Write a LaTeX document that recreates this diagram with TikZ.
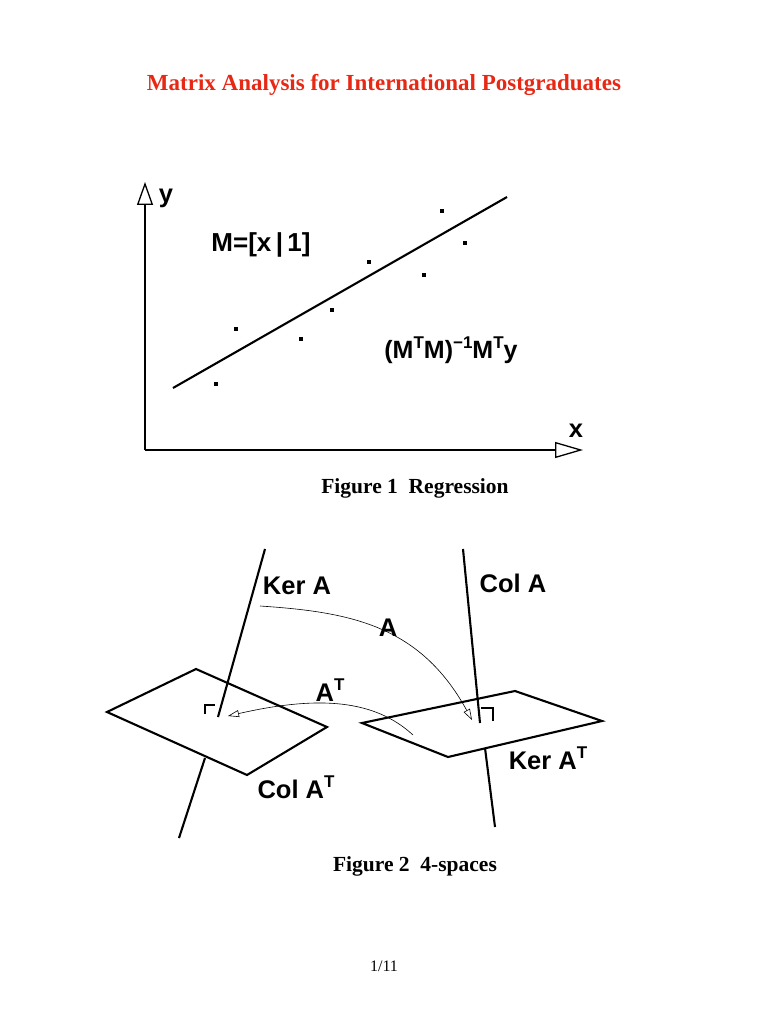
\documentclass[tikz,border=0pt]{standalone}
\usepackage{fontspec}
\setmainfont{Liberation Serif}
\newfontfamily\lab{Liberation Sans}
\usetikzlibrary{arrows.meta}
\newcommand{\supT}[1]{\raisebox{0.42em}{\fontsize{17}{18}\selectfont #1}}
\begin{document}
\begin{tikzpicture}[x=1pt,y=-1pt,
 thick line/.style={line width=2.1pt},
 thin arrow/.style={line width=0.6pt,-{Triangle[open,length=11pt,width=7pt]}},
 lbl/.style={font=\lab\bfseries\fontsize{25.5}{28}\selectfont,inner sep=0},
 figcap/.style={font=\bfseries\fontsize{21.5}{24}\selectfont,inner sep=0},
 datadot/.style={fill,minimum size=3.5pt,inner sep=0,rectangle}]
\useasboundingbox (0,0) rectangle (768,1024);
\node[font=\bfseries\fontsize{23}{26}\selectfont,text={rgb,255:red,230;green,40;blue,20}] (title) at (384,85) {Matrix Analysis for International Postgraduates};
% Figure 1
\coordinate (o) at (145,450);
\coordinate (yt) at (145,182);
\coordinate (xr) at (583,450);
\draw[line width=1.3pt,-{Triangle[open,length=23pt,width=16pt]}] (o) -- (yt);
\draw[line width=1.3pt,-{Triangle[open,length=28pt,width=16pt]}] (o) -- (xr);
\node[lbl] (ylab) at (166,198) {y};
\node[lbl] (xlab) at (576,431) {x};
\coordinate (l1) at (173,388);
\coordinate (l2) at (507,197);
\draw[thick line] (l1) -- (l2);
\foreach \n/\p in {a/{(216,384)},b/{(236,329)},c/{(301,339)},d/{(332,310)},e/{(369,262)},f/{(424,275)},g/{(442,211)},h/{(465,243)}}
 \node[datadot] (p\n) at \p {};
\node[lbl,font=\lab\bfseries\fontsize{26}{28}\selectfont] (mdef) at (261,245) {M=[x\,\textbar\,1]};
\node[lbl,font=\lab\bfseries\fontsize{25}{28}\selectfont] (sol) at (451,350) {(M\supT{T}M)\supT{−1}M\supT{T}y};
\node[figcap] (cap1) at (415,488) {Figure 1\ \ Regression};
% Figure 2
\coordinate (lp1) at (107,712); \coordinate (lp2) at (196,669);
\coordinate (lp3) at (327,727); \coordinate (lp4) at (247,775);
\draw[thick line,line join=miter] (lp1) -- (lp2) -- (lp3) -- (lp4) -- cycle;
\coordinate (k1) at (265,549); \coordinate (k2) at (218,717);
\coordinate (k3) at (205,758); \coordinate (k4) at (179,838);
\draw[thick line] (k1) -- (k2);
\draw[thick line] (k3) -- (k4);
\coordinate (ra1) at (205,714); \coordinate (ra2) at (205,705); \coordinate (ra3) at (215,705);
\draw[line width=1.2pt] (ra1) -- (ra2) -- (ra3);
\coordinate (rp1) at (362,723); \coordinate (rp2) at (515,691);
\coordinate (rp3) at (602,721); \coordinate (rp4) at (448,757);
\draw[thick line,line join=miter] (rp1) -- (rp2) -- (rp3) -- (rp4) -- cycle;
\coordinate (c1) at (463,549); \coordinate (c2) at (480,723);
\coordinate (c3) at (485,748); \coordinate (c4) at (495,827);
\draw[thick line] (c1) -- (c2);
\draw[thick line] (c3) -- (c4);
\coordinate (rb1) at (481,708); \coordinate (rb2) at (493,708); \coordinate (rb3) at (493,721);
\draw[line width=1.2pt] (rb1) -- (rb2) -- (rb3);
\coordinate (as) at (260,606); \coordinate (ae) at (472,720);
\draw[thin arrow] (as) .. controls (350,612) and (420,625) .. (ae);
\coordinate (bs) at (413,735); \coordinate (be) at (228,716);
\draw[thin arrow] (bs) .. controls (375,700) and (320,695) .. (be);
\node[lbl] (kera) at (297,586) {Ker A};
\node[lbl] (cola) at (513,583) {Col A};
\node[lbl] (amap) at (388,628) {A};
\node[lbl] (atmap) at (330,690) {A\supT{T}};
\node[lbl] (kerat) at (548,758) {Ker A\supT{T}};
\node[lbl] (colat) at (296,787) {Col A\supT{T}};
\node[figcap] (cap2) at (415,866) {Figure 2\ \ 4-spaces};
\node[font=\fontsize{16}{18}\selectfont] (pg) at (384,966) {1/11};
\end{tikzpicture}
\end{document}
